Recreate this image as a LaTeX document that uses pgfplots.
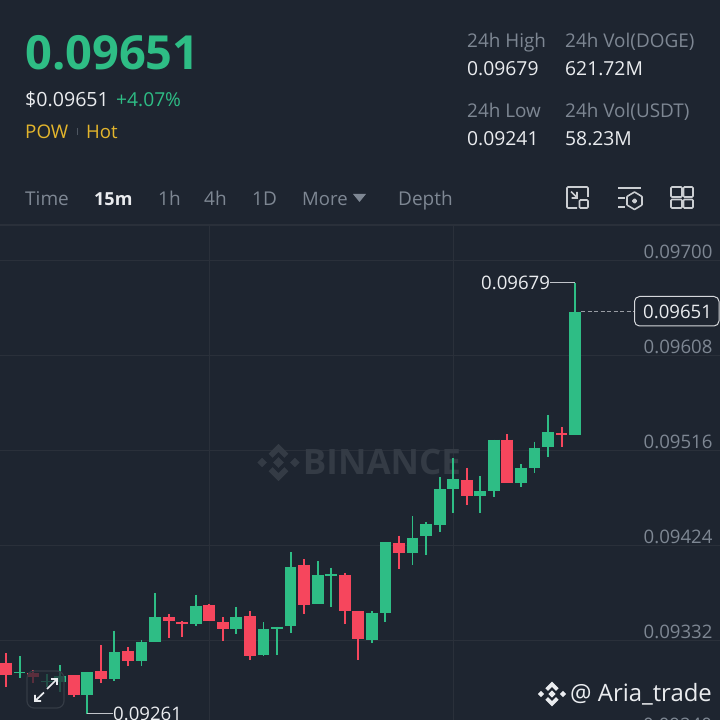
\documentclass[border=0pt]{standalone}
\usepackage{pgfplots}
\usepackage{pgfplotstable}
\pgfplotsset{compat=1.18}
\usepackage{fontspec}
\setmainfont{Open Sans}
\definecolor{bg}{HTML}{1E2530}
\definecolor{up}{HTML}{2EBD85}
\definecolor{dn}{HTML}{F6465D}
\definecolor{gridc}{HTML}{2A303A}
\definecolor{muted}{HTML}{7E8793}
\definecolor{wht}{HTML}{EAECEF}
\definecolor{ylw}{HTML}{E3B52C}
\definecolor{wm}{HTML}{343B45}
\pgfplotstableread{
i top bot hi lo
1 9302 9301 9317 9296
3 9293 9292 9300 9287
4 9298 9292 9309 9283
6 9302 9280 9302 9261
8 9321 9295 9342 9293
10 9331 9313 9333 9308
11 9355 9331 9378 9331
14 9366 9348 9377 9347
17 9355 9344 9365 9339
19 9344 9318 9350 9317
20 9346 9344 9346 9318
21 9404 9347 9418 9340
23 9396 9368 9409 9368
24 9397 9395 9403 9365
27 9359 9333 9361 9330
28 9428 9359 9428 9350
30 9432 9417 9453 9406
31 9445 9434 9447 9415
32 9479 9444 9491 9438
33 9489 9479 9509 9456
35 9477 9472 9492 9456
36 9527 9477 9527 9471
38 9500 9485 9503 9481
39 9519 9500 9525 9495
40 9534 9520 9551 9510
42 9651 9531 9679 9531
}\upT
\pgfplotstableread{
i top bot hi lo
0 9311 9299 9320 9287
2 9301 9297 9304 9291
5 9299 9280 9299 9278
7 9303 9295 9328 9291
9 9322 9313 9326 9308
12 9355 9351 9358 9335
13 9350 9348 9351 9336
15 9367 9351 9368 9351
16 9350 9344 9355 9332
18 9356 9317 9361 9314
22 9406 9367 9411 9358
25 9396 9361 9398 9348
26 9361 9334 9361 9314
29 9427 9417 9434 9402
34 9488 9472 9500 9464
37 9527 9485 9532 9485
41 9533 9531 9539 9520
}\dnT
\newcommand{\T}[4][]{\node[anchor=base west,inner sep=0pt,#1] at (#2pt,{720-#3}) {#4};}
\begin{document}
\begin{tikzpicture}[x=1pt,y=1pt]
\path[use as bounding box] (0,0) rectangle (720,720);
\clip (0,0) rectangle (720,720);
\fill[bg] (0,0) rectangle (720,720);
\begin{axis}[
 at={(0,0)},anchor=south west,scale only axis,width=720pt,height=496pt,
 xmin=-0.4428,xmax=52.694,ymin=9255.5,ymax=9735.8,
 axis line style={draw=none},
 xtick={15,33},xticklabels={},
 ytick={9332,9424,9516,9608,9700},
 yticklabels={0.09332,0.09424,0.09516,0.09608,0.09700},
 ymajorgrids,xmajorgrids,
 major grid style={gridc,line width=1pt},
 major tick length=0pt,
 ytick pos=right,
 yticklabel style={anchor=east,xshift=-4pt,yshift=9.5pt,font=\fontsize{18.6}{18.6}\selectfont,text=muted},
 clip=true,
 axis on top=false,
]
\node[text=wm,font=\fontsize{35}{35}\selectfont\bfseries,anchor=west,inner sep=0pt] at (axis cs:21.9,9505) {BINANCE};
\addplot[draw=none,mark=none,error bars/.cd,y dir=minus,y explicit,error mark=none,error bar style={up,line width=1.9pt}] table[x=i,y=hi,y error minus expr=\thisrow{hi}-\thisrow{lo}] {\upT};
\addplot[draw=none,mark=none,error bars/.cd,y dir=minus,y explicit,error mark=none,error bar style={up,line width=11.8pt}] table[x=i,y=top,y error minus expr=\thisrow{top}-\thisrow{bot}] {\upT};
\addplot[draw=none,mark=none,error bars/.cd,y dir=minus,y explicit,error mark=none,error bar style={dn,line width=1.9pt}] table[x=i,y=hi,y error minus expr=\thisrow{hi}-\thisrow{lo}] {\dnT};
\addplot[draw=none,mark=none,error bars/.cd,y dir=minus,y explicit,error mark=none,error bar style={dn,line width=11.8pt}] table[x=i,y=top,y error minus expr=\thisrow{top}-\thisrow{bot}] {\dnT};
\end{axis}
% header
\fill[gridc] (0,{720-226}) rectangle (720,{720-224});
\T[text=up,font=\fontsize{47}{47}\selectfont\bfseries]{25}{70}{0.09651}
\T[text=wht,font=\fontsize{19.6}{19.6}\selectfont]{25}{107}{\$0.09651}
\T[text=up,font=\fontsize{19.2}{19.2}\selectfont]{116}{107}{+4.07\%}
\T[text=ylw,font=\fontsize{18.8}{18.8}\selectfont]{25}{139}{POW}
\T[text=ylw,font=\fontsize{18.6}{18.6}\selectfont]{86}{139}{Hot}
\fill[muted!50!bg] (76.5,{720-135}) rectangle (78,{720-128});
\T[text=muted,font=\fontsize{18.9}{18.9}\selectfont]{467}{48}{24h High}
\T[text=muted,font=\fontsize{18.9}{18.9}\selectfont]{565}{48}{24h Vol(DOGE)}
\T[text=wht,font=\fontsize{19.3}{19.3}\selectfont]{467}{76}{0.09679}
\T[text=wht,font=\fontsize{19.3}{19.3}\selectfont]{565}{76}{621.72M}
\T[text=muted,font=\fontsize{18.9}{18.9}\selectfont]{467}{118}{24h Low}
\T[text=muted,font=\fontsize{18.9}{18.9}\selectfont]{565}{118}{24h Vol(USDT)}
\T[text=wht,font=\fontsize{19.3}{19.3}\selectfont]{467}{146}{0.09241}
\T[text=wht,font=\fontsize{19.3}{19.3}\selectfont]{565}{146}{58.23M}
% tabs
\T[text=muted,font=\fontsize{19}{19}\selectfont]{25}{206}{Time}
\T[text=wht,font=\fontsize{18}{18}\selectfont\bfseries]{94}{206}{15m}
\T[text=muted,font=\fontsize{19}{19}\selectfont]{158}{206}{1h}
\T[text=muted,font=\fontsize{19}{19}\selectfont]{204}{206}{4h}
\T[text=muted,font=\fontsize{19}{19}\selectfont]{252}{206}{1D}
\T[text=muted,font=\fontsize{18.5}{18.5}\selectfont]{302}{206}{More}
\fill[muted] (353,{720-194}) -- (366,{720-194}) -- (359.5,{720-202}) -- cycle;
\T[text=muted,font=\fontsize{19}{19}\selectfont]{398}{206}{Depth}
% icons
\begin{scope}[wht!85!bg,line width=1.6pt,rounded corners=1pt]
\draw (577,{720-208}) -- (567,{720-208}) -- (567,{720-187}) -- (588,{720-187}) -- (588,{720-197});
\draw (579.5,{720-200}) rectangle (588,{720-208});
\draw[rounded corners=0pt] (571,{720-191.5}) -- (577,{720-197.5}) (577,{720-192}) -- (577,{720-198}) -- (571.5,{720-198});
\draw (618,{720-188}) -- (641,{720-188}) (618,{720-198}) -- (625,{720-198}) (618,{720-207}) -- (625,{720-207});
\draw[rounded corners=0.5pt] (634.5,{720-192}) -- (642,{720-196.5}) -- (642,{720-205}) -- (634.5,{720-209.5}) -- (627,{720-205}) -- (627,{720-196.5}) -- cycle;
\fill (634.5,{720-198}) -- (637.5,{720-201}) -- (634.5,{720-204}) -- (631.5,{720-201}) -- cycle;
\draw (671,{720-187}) rectangle (682,{720-197});
\draw (683.5,{720-187}) rectangle (693,{720-197});
\draw (671,{720-199.5}) rectangle (682,{720-208});
\draw (683.5,{720-199.5}) rectangle (693,{720-208});
\end{scope}
% annotations
\draw[wht!80!bg,line width=1pt] (550,{720-282.7}) -- (575,{720-282.7});
\T[text=wht,font=\fontsize{18.6}{18.6}\selectfont]{481}{289.5}{0.09679}
\draw[wht!80!bg,line width=1pt] (87,{720-714}) -- (113,{720-714});
\T[text=wht,font=\fontsize{18.6}{18.6}\selectfont]{113}{720.5}{0.09261}
\draw[wht!60!bg,line width=1pt,dash pattern=on 4pt off 2.5pt] (581,{720-311.6}) -- (634,{720-311.6});
\draw[wht!90!bg,line width=1pt,fill=bg,rounded corners=5pt] (634.5,{720-296.5}) rectangle (719,{720-326});
\T[text=wht,font=\fontsize{18.6}{18.6}\selectfont]{643}{318.5}{0.09651}
\T[text=muted,font=\fontsize{18.6}{18.6}\selectfont]{643}{731}{0.09240}
% watermark logo
\begin{scope}[shift={(278.5,{720-462.5})},scale=1.17,wm]
\fill (0,16) -- (8.5,7.5) -- (5,4) -- (0,9) -- (-5,4) -- (-8.5,7.5) -- cycle;
\fill (0,-16) -- (8.5,-7.5) -- (5,-4) -- (0,-9) -- (-5,-4) -- (-8.5,-7.5) -- cycle;
\fill (0,4.5) -- (4.5,0) -- (0,-4.5) -- (-4.5,0) -- cycle;
\fill (-14,4) -- (-10,0) -- (-14,-4) -- (-18,0) -- cycle;
\fill (14,4) -- (18,0) -- (14,-4) -- (10,0) -- cycle;
\end{scope}
% expand button
\draw[wm,line width=1.2pt,rounded corners=7pt,fill=bg,fill opacity=0.72] (27,{720-671}) rectangle (64,{720-708});
\begin{scope}[wht,line width=1.7pt]
\draw (47,{720-689}) -- (57,{720-679}) (51,{720-679}) -- (57,{720-679}) -- (57,{720-685});
\draw (44,{720-692.5}) -- (35,{720-701}) (35,{720-695}) -- (35,{720-701}) -- (41,{720-701});
\end{scope}
% credit
\begin{scope}[shift={(552,{720-694})},scale=0.78,wht]
\fill (0,16) -- (8.5,7.5) -- (5,4) -- (0,9) -- (-5,4) -- (-8.5,7.5) -- cycle;
\fill (0,-16) -- (8.5,-7.5) -- (5,-4) -- (0,-9) -- (-5,-4) -- (-8.5,-7.5) -- cycle;
\fill (0,4.5) -- (4.5,0) -- (0,-4.5) -- (-4.5,0) -- cycle;
\fill (-14,4) -- (-10,0) -- (-14,-4) -- (-18,0) -- cycle;
\fill (14,4) -- (18,0) -- (14,-4) -- (10,0) -- cycle;
\end{scope}
\T[text=wht,font=\fontsize{23.9}{23.9}\selectfont]{570}{702}{@ Aria\_trade}
\end{tikzpicture}
\end{document}
